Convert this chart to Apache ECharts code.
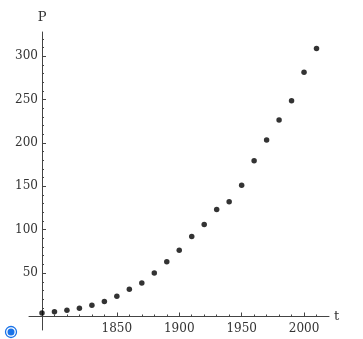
<!DOCTYPE html>
<html><head><meta charset="utf-8">
<script src="https://cdn.jsdelivr.net/npm/echarts@6/dist/echarts.min.js"></script>
<style>html,body{margin:0;padding:0;background:#fff}#c{width:363px;height:339px}</style>
</head><body><div id="c"></div>
<script>
const years = [1790,1800,1810,1820,1830,1840,1850,1860,1870,1880,1890,1900,1910,1920,1930,1940,1950,1960,1970,1980,1990,2000,2010];
const population = [3.9,5.3,7.2,9.6,12.9,17.1,23.2,31.4,38.6,50.2,63.0,76.2,92.2,106.0,123.2,132.2,151.3,179.3,203.3,226.5,248.7,281.4,308.7];
const xMajorTicks = [1850,1900,1950,2000];
const xMinorTicks = [1800,1810,1820,1830,1840,1860,1870,1880,1890,1910,1920,1930,1940,1960,1970,1980,1990,2010];
const yMajorTicks = [50,100,150,200,250,300];
const yMinorTicks = [10,20,30,40,60,70,80,90,110,120,130,140,160,170,180,190,210,220,230,240,260,270,280,290,310,320];
const xName = 't', yName = 'P';

const font = 'DejaVu Serif';
const axisColor = '#444';
const labelColor = '#333';
const X_MIN = 1779.6, X_MAX = 2020, Y_MIN = -15.6, Y_MAX = 327.8;
const X_AXIS_SHIFT = -13.5; // x axis drawn at P = 0
const Y_AXIS_SHIFT = -13;   // y axis drawn at t = 1790

const chart = echarts.init(document.getElementById('c'), null, {renderer:'canvas'});
const points = years.map((y,i)=>[y, population[i]]);
const plain = v => String(v);
chart.setOption({
  animation:false,
  grid:{left:29, right:34, top:32, bottom:9, outerBoundsMode:'none', containLabel:false},
  xAxis:[{
    type:'value', min:X_MIN, max:X_MAX, position:'bottom', offset:X_AXIS_SHIFT,
    axisLine:{show:true, onZero:false, lineStyle:{color:axisColor, width:1}},
    axisTick:{show:true, inside:true, length:4, customValues:xMajorTicks, lineStyle:{color:axisColor}},
    axisLabel:{customValues:xMajorTicks, formatter:plain, fontFamily:font, fontSize:12, color:labelColor, margin:6},
    splitLine:{show:false},
    name:xName, nameLocation:'end', nameGap:5,
    nameTextStyle:{fontFamily:font, fontSize:13, color:labelColor, verticalAlign:'middle'}
  },{
    type:'value', min:X_MIN, max:X_MAX, position:'bottom', offset:X_AXIS_SHIFT,
    axisLine:{show:false, onZero:false},
    axisTick:{show:true, inside:true, length:2, customValues:xMinorTicks, lineStyle:{color:axisColor}},
    axisLabel:{show:false}, splitLine:{show:false}
  }],
  yAxis:[{
    type:'value', min:Y_MIN, max:Y_MAX, position:'left', offset:Y_AXIS_SHIFT,
    axisLine:{show:true, onZero:false, lineStyle:{color:axisColor, width:1}},
    axisTick:{show:true, inside:true, length:4, customValues:yMajorTicks, lineStyle:{color:axisColor}},
    axisLabel:{customValues:yMajorTicks, formatter:plain, fontFamily:font, fontSize:12, color:labelColor, margin:4},
    splitLine:{show:false},
    name:yName, nameLocation:'end', nameGap:8,
    nameTextStyle:{fontFamily:font, fontSize:13, color:labelColor}
  },{
    type:'value', min:Y_MIN, max:Y_MAX, position:'left', offset:Y_AXIS_SHIFT,
    axisLine:{show:false, onZero:false},
    axisTick:{show:true, inside:true, length:2, customValues:yMinorTicks, lineStyle:{color:axisColor}},
    axisLabel:{show:false}, splitLine:{show:false}
  }],
  series:[{
    type:'scatter', xAxisIndex:0, yAxisIndex:0, data:points,
    symbol:'circle', symbolSize:5.5, itemStyle:{color:'#000'}
  }],
  graphic:[
    {type:'circle', shape:{cx:11, cy:332, r:5.5}, style:{fill:'#fff', stroke:'#1a73e8', lineWidth:1.3}},
    {type:'circle', shape:{cx:11, cy:332, r:3.5}, style:{fill:'#1a73e8'}}
  ]
});
</script></body></html>
